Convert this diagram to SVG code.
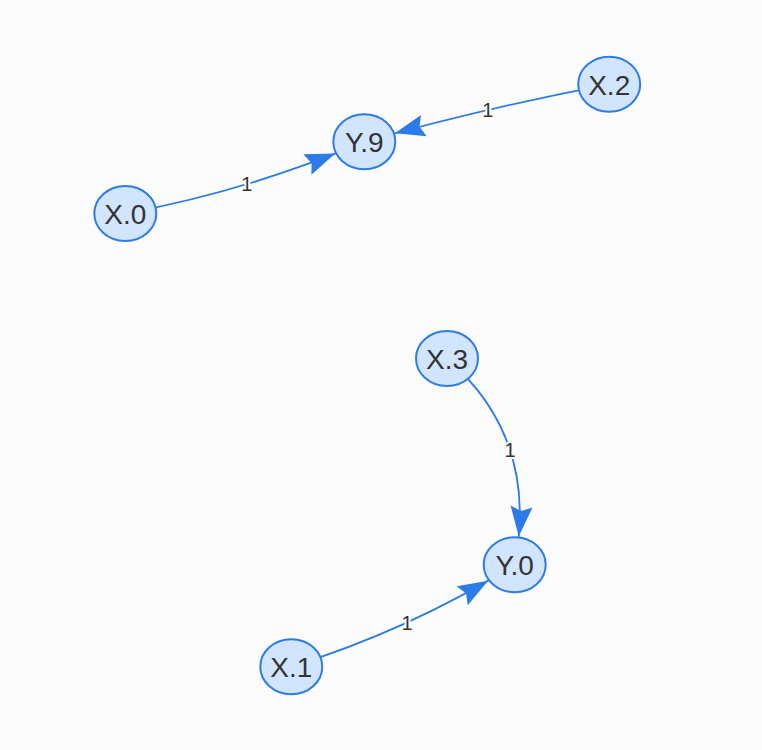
<svg xmlns="http://www.w3.org/2000/svg" width="762" height="750" viewBox="0 0 762 750">
<style>
.bg{fill:#fcfcfd}
.edge{fill:none;stroke:#2b7ce9;stroke-width:1.8}
.arrow{fill:#2b7ce9;stroke:none}
.elabel{font-family:"Liberation Sans",Arial,sans-serif;font-size:20px;fill:#343434;text-anchor:middle;stroke:#fcfcfd;stroke-width:4;paint-order:stroke;stroke-linejoin:round}
.node ellipse{fill:#d2e5ff;stroke:#2b7ce9;stroke-width:2}
.node text{font-family:"Liberation Sans",Arial,sans-serif;font-size:28px;fill:#343434;text-anchor:middle}
</style>
<rect class="bg" x="0" y="0" width="762" height="750"/>
<g id="connectors">
  <g id="e-x0-y9">
    <path class="edge" d="M125.3,213.5 Q248.6,190.8 364.3,141.7"/>
    <polygon class="arrow" points="335.3,153.6 311.39,174.81 311.56,162.92 303.35,154.33"/>
    <text class="elabel" x="246.7" y="191.4">1</text>
  </g>
  <g id="e-x2-y9">
    <path class="edge" d="M609.2,84.3 Q488.65,107 364.3,141.7"/>
    <polygon class="arrow" points="394.88,133.33 421.01,114.94 419.51,126.73 426.71,136.18"/>
    <text class="elabel" x="487.7" y="117.2">1</text>
  </g>
  <g id="e-x3-y0">
    <path class="edge" d="M447,358.5 Q539.15,438.4 514.7,564.7"/>
    <polygon class="arrow" points="518.77,536.43 510.57,505.55 521.1,511.04 532.47,507.57"/>
    <text class="elabel" x="510" y="457.2">1</text>
  </g>
  <g id="e-x1-y0">
    <path class="edge" d="M291.3,666.7 Q411,629.3 514.7,564.7"/>
    <polygon class="arrow" points="488.17,580.63 467.71,605.17 466.1,593.4 456.69,586.13"/>
    <text class="elabel" x="407" y="629.7">1</text>
  </g>
</g>
<g id="node-x0" class="node"><ellipse cx="125.3" cy="213.5" rx="31" ry="27.5"/><text x="125.3" y="224">X.0</text></g>
<g id="node-y9" class="node"><ellipse cx="364.3" cy="141.7" rx="31" ry="27.5"/><text x="364.3" y="152.2">Y.9</text></g>
<g id="node-x2" class="node"><ellipse cx="609.2" cy="84.3" rx="31" ry="27.5"/><text x="609.2" y="94.8">X.2</text></g>
<g id="node-x3" class="node"><ellipse cx="447" cy="358.5" rx="31" ry="27.5"/><text x="447" y="369">X.3</text></g>
<g id="node-y0" class="node"><ellipse cx="514.7" cy="564.7" rx="31" ry="27.5"/><text x="514.7" y="575.2">Y.0</text></g>
<g id="node-x1" class="node"><ellipse cx="291.3" cy="666.7" rx="31" ry="27.5"/><text x="291.3" y="677.2">X.1</text></g>
</svg>
